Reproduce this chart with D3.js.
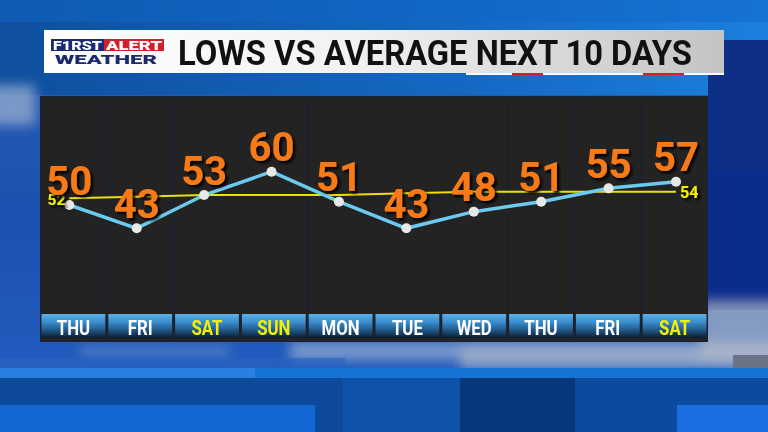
<!DOCTYPE html>
<html><head><meta charset="utf-8">
<script src="https://cdn.jsdelivr.net/npm/d3@7"></script>
<style>html,body{margin:0;padding:0;background:#1560b8;overflow:hidden}svg{display:block}</style>
</head><body>
<script>
const days = ["THU","FRI","SAT","SUN","MON","TUE","WED","THU","FRI","SAT"];
const weekend = [false,false,true,true,false,false,false,false,false,true];
const lows = [50,43,53,60,51,43,48,51,55,57];
const averages = [52,52.5,53,53,53,53.5,54,54,54,54];
const title = "LOWS VS AVERAGE NEXT 10 DAYS";

const W=768,H=432;
const svg=d3.select("body").append("svg").attr("width",W).attr("height",H);
const defs=svg.append("defs");

const g1=defs.append("linearGradient").attr("id","topbg").attr("x1",0).attr("x2",1);
g1.append("stop").attr("offset",0).attr("stop-color","#0f4f9e");
g1.append("stop").attr("offset",0.6).attr("stop-color","#1468c2");
g1.append("stop").attr("offset",1).attr("stop-color","#1b80dc");
const sky=defs.append("linearGradient").attr("id","sky").attr("x1",0).attr("x2",0).attr("y1",0).attr("y2",1);
sky.append("stop").attr("offset",0).attr("stop-color","#2a62b4");
sky.append("stop").attr("offset",0.5).attr("stop-color","#1c50b0");
sky.append("stop").attr("offset",1).attr("stop-color","#2460c4");
const ban=defs.append("linearGradient").attr("id","banner").attr("x1",0).attr("x2",1);
ban.append("stop").attr("offset",0).attr("stop-color","#ffffff");
ban.append("stop").attr("offset",0.45).attr("stop-color","#f2f2f2");
ban.append("stop").attr("offset",1).attr("stop-color","#c4c4c4");
const cell=defs.append("linearGradient").attr("id","cell").attr("x1",0).attr("x2",0).attr("y1",0).attr("y2",1);
cell.append("stop").attr("offset",0).attr("stop-color","#5cb2ea");
cell.append("stop").attr("offset",0.35).attr("stop-color","#3a8ccc");
cell.append("stop").attr("offset",0.75).attr("stop-color","#1a4a74");
cell.append("stop").attr("offset",1).attr("stop-color","#0c1c2c");
const blur=defs.append("filter").attr("id","blur").attr("x","-30%").attr("y","-30%").attr("width","160%").attr("height","160%");
blur.append("feGaussianBlur").attr("stdDeviation",6);
const shadow=defs.append("filter").attr("id","sh").attr("x","-20%").attr("y","-20%").attr("width","150%").attr("height","150%");
shadow.append("feDropShadow").attr("dx",2.5).attr("dy",2.5).attr("stdDeviation",1.2).attr("flood-color","#000").attr("flood-opacity",0.95);

// background
svg.append("rect").attr("width",W).attr("height",H).attr("fill","url(#sky)");
svg.append("rect").attr("width",W).attr("height",95).attr("fill","url(#topbg)");
svg.append("rect").attr("x",0).attr("y",0).attr("width",W).attr("height",22).attr("fill","#1066c8").attr("opacity",0.5);
svg.append("rect").attr("x",708).attr("y",40).attr("width",60).attr("height",130).attr("fill","#0c2e84");
svg.append("rect").attr("x",708).attr("y",170).attr("width",60).attr("height",140).attr("fill","#0a2c8c");
// soft clouds
const cl=svg.append("g").attr("filter","url(#blur)");
cl.append("rect").attr("x",-10).attr("y",85).attr("width",45).attr("height",40).attr("fill","#9fb4d2").attr("opacity",0.7);
cl.append("rect").attr("x",290).attr("y",342).attr("width",170).attr("height",18).attr("fill","#b4c2d6").attr("opacity",0.6);
cl.append("rect").attr("x",460).attr("y",342).attr("width",320).attr("height",26).attr("fill","#b8c0cc").attr("opacity",0.75);
cl.append("rect").attr("x",700).attr("y",300).attr("width",80).attr("height",60).attr("fill","#b0b8c8").attr("opacity",0.7);
cl.append("rect").attr("x",80).attr("y",346).attr("width",150).attr("height",10).attr("fill","#7f9fd0").attr("opacity",0.5);
svg.append("rect").attr("x",0).attr("y",358).attr("width",345).attr("height",10).attr("fill","#2a62c2").attr("opacity",0.6);
svg.append("rect").attr("x",733).attr("y",355).attr("width",35).attr("height",13).attr("fill","#6a7486");
// bottom bands
svg.append("rect").attr("x",0).attr("y",368).attr("width",W).attr("height",10).attr("fill","#1675d4");
svg.append("rect").attr("x",0).attr("y",368).attr("width",255).attr("height",10).attr("fill","#2a7fe0");
svg.append("rect").attr("x",0).attr("y",378).attr("width",W).attr("height",54).attr("fill","#0d4a9c");
svg.append("rect").attr("x",343).attr("y",378).attr("width",117).attr("height",54).attr("fill","#0e52aa");
svg.append("rect").attr("x",460).attr("y",378).attr("width",115).attr("height",54).attr("fill","#08387c");
svg.append("rect").attr("x",575).attr("y",378).attr("width",193).attr("height",54).attr("fill","#0b4a9e");
svg.append("rect").attr("x",0).attr("y",405).attr("width",315).attr("height",27).attr("fill","#1466d2");
svg.append("rect").attr("x",677).attr("y",405).attr("width",91).attr("height",27).attr("fill","#1a70e2");

// banner
svg.append("rect").attr("x",44).attr("y",30).attr("width",680).attr("height",43).attr("fill","url(#banner)");
[[466,512,"#fff"],[512,543,"#d0202a"],[543,643,"#fff"],[643,684,"#d0202a"],[684,724,"#fff"]].forEach(s=>{
  svg.append("rect").attr("x",s[0]).attr("y",73).attr("width",s[1]-s[0]).attr("height",2).attr("fill",s[2]);
});
// logo
svg.append("rect").attr("x",51).attr("y",39).attr("width",53).attr("height",12).attr("fill","#1c2a70");
svg.append("rect").attr("x",104).attr("y",39).attr("width",60).attr("height",12).attr("fill","#d0202a");
function fit(sel,w){sel.attr("textLength",w).attr("lengthAdjust","spacingAndGlyphs");return sel;}
fit(svg.append("text").attr("x",53).attr("y",49.5).text("F1RST").attr("font-family","Roboto").attr("font-weight",900).attr("font-size",12).attr("fill","#fff"),49);
fit(svg.append("text").attr("x",106).attr("y",49.5).text("ALERT").attr("font-family","Roboto").attr("font-weight",900).attr("font-size",12).attr("fill","#fff"),56);
fit(svg.append("text").attr("x",55).attr("y",64).text("WEATHER").attr("font-family","Roboto").attr("font-weight",900).attr("font-size",13.5).attr("fill","#1c2a70"),102);
fit(svg.append("text").attr("x",178).attr("y",64.5).text(title).attr("font-family","Roboto").attr("font-weight",700).attr("font-size",35).attr("fill","#111"),514);

// chart panel
const band=d3.scaleBand().domain(d3.range(days.length)).range([40,708]);
const x=d3.scalePoint().domain(d3.range(days.length)).range([69.3,676]);
const y=d3.scaleLinear().domain([40,70]).range([238.3,138.4]);

svg.append("rect").attr("x",40).attr("y",96).attr("width",668).attr("height",246).attr("fill","#1a2230");
svg.append("g").selectAll("rect").data(days).join("rect")
  .attr("x",(d,i)=>band(i)+1).attr("y",98).attr("width",band.bandwidth()-2).attr("height",242)
  .attr("fill","#232323");
svg.append("g").selectAll("rect").data(days).join("rect")
  .attr("x",(d,i)=>band(i)+1.5).attr("y",314).attr("width",band.bandwidth()-3).attr("height",24)
  .attr("fill","url(#cell)");
svg.append("g").selectAll("text").data(days).join("text")
  .attr("x",(d,i)=>band(i)+band.bandwidth()/2).attr("y",334.5)
  .attr("text-anchor","middle").attr("font-family","Roboto").attr("font-weight",700).attr("font-size",20)
  .attr("fill",(d,i)=>weekend[i]?"#f5f000":"#ffffff")
  .text(d=>d)
  .each(function(){const w=this.getComputedTextLength();d3.select(this).attr("textLength",w*0.84).attr("lengthAdjust","spacingAndGlyphs");});

// average line
const line=d3.line().x((d,i)=>x(i)).y(d=>y(d));
svg.append("path").attr("d",line(averages)).attr("fill","none").attr("stroke","#ecdf10").attr("stroke-width",2);
// lows line
svg.append("path").attr("d",line(lows)).attr("fill","none").attr("stroke","#6ccaee").attr("stroke-width",3.5);
svg.append("g").selectAll("circle").data(lows).join("circle")
  .attr("cx",(d,i)=>x(i)).attr("cy",d=>y(d)).attr("r",5).attr("fill","#e8e8e8");

// avg labels
const n=averages.length-1;
svg.append("text").attr("x",x(0)-4).attr("y",y(averages[0])+6.5).attr("text-anchor","end")
  .attr("font-family","Roboto").attr("font-weight",700).attr("font-size",15.5).attr("fill","#f5f000")
  .attr("filter","url(#sh)").text(averages[0]);
svg.append("text").attr("x",x(n)+4).attr("y",y(averages[n])+6).attr("text-anchor","start")
  .attr("font-family","Roboto").attr("font-weight",700).attr("font-size",16).attr("fill","#f5f000")
  .attr("filter","url(#sh)").text(averages[n]);

// value labels
svg.append("g").selectAll("text").data(lows).join("text")
  .attr("x",(d,i)=>x(i)).attr("y",d=>y(d)-10.5).attr("text-anchor","middle")
  .attr("font-family","Roboto").attr("font-weight",700).attr("font-size",40)
  .attr("fill","#f77a18").attr("filter","url(#sh)").text(d=>d);
</script>
</body></html>
